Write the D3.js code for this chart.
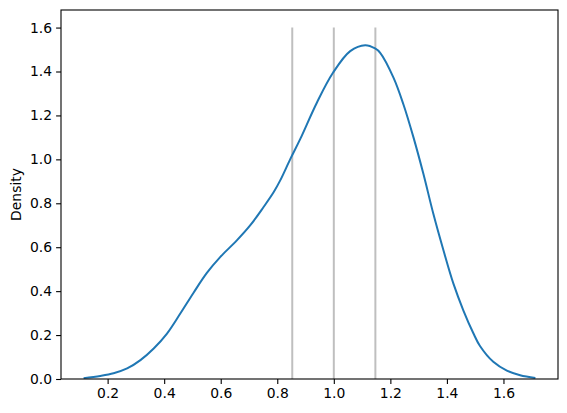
<!DOCTYPE html>
<html>
<head>
<meta charset="utf-8">
<script src="https://cdn.jsdelivr.net/npm/d3@7"></script>
<style>
  body { margin: 0; background: #fff; }
  text { font-family: "DejaVu Sans", sans-serif; }
</style>
</head>
<body>
<svg id="chart" width="567" height="413"></svg>
<script>
// kde curve
const xs = [0.115, 0.174, 0.221, 0.269, 0.316, 0.363, 0.410, 0.457, 0.504, 0.551, 0.598, 0.657, 0.704, 0.751, 0.787, 0.810, 0.846, 0.881, 0.940, 0.997, 1.058, 1.111, 1.146, 1.164, 1.211, 1.246, 1.282, 1.317, 1.352, 1.388, 1.423, 1.458, 1.494, 1.517, 1.564, 1.612, 1.659, 1.713]
const density = [0.004, 0.014, 0.026, 0.048, 0.086, 0.139, 0.207, 0.298, 0.393, 0.483, 0.555, 0.631, 0.699, 0.782, 0.850, 0.903, 1.001, 1.092, 1.258, 1.394, 1.493, 1.520, 1.505, 1.485, 1.372, 1.251, 1.099, 0.933, 0.752, 0.585, 0.434, 0.313, 0.207, 0.150, 0.078, 0.038, 0.017, 0.005]

// quartile markers
const quartiles = [0.853, 1.0, 1.147]
const quartileTop = 1.6

const xTicks = [0.2, 0.4, 0.6, 0.8, 1.0, 1.2, 1.4, 1.6]
const yTicks = [0.0, 0.2, 0.4, 0.6, 0.8, 1.0, 1.2, 1.4, 1.6]

const margin = {left: 61, right: 9, top: 10, bottom: 34}
const W = 567, H = 413

const svg = d3.select("#chart")

const x = d3.scaleLinear()
    .domain([0.0351, 1.7929])
    .range([margin.left, W - margin.right])

const y = d3.scaleLinear()
    .domain([0, 1.68])
    .range([H - margin.bottom, margin.top])

const pts = xs.map((v, i) => [v, density[i]])

// grey vertical lines
svg.append("g")
    .selectAll("line")
    .data(quartiles)
    .enter()
    .append("line")
    .attr("x1", d => x(d)).attr("x2", d => x(d))
    .attr("y1", y(0)).attr("y2", y(quartileTop))
    .style("stroke", "#bfbfbf")
    .style("stroke-width", 2)

const line = d3.line()
    .x(d => x(d[0]))
    .y(d => y(d[1]))
    .curve(d3.curveCatmullRom.alpha(0.5))

svg.append("path")
    .datum(pts)
    .attr("d", line)
    .attr("fill", "none")
    .attr("stroke", "#1f77b4")
    .attr("stroke-width", 2)

// axes
const xAxis = svg.append("g")
    .attr("transform", `translate(0,${H - margin.bottom})`)
    .call(d3.axisBottom(x).tickValues(xTicks).tickFormat(d3.format(".1f")).tickSize(4.9).tickPadding(4))

const yAxis = svg.append("g")
    .attr("transform", `translate(${margin.left},0)`)
    .call(d3.axisLeft(y).tickValues(yTicks).tickFormat(d3.format(".1f")).tickSize(4.9).tickPadding(4))

svg.selectAll(".domain").remove()
svg.selectAll(".tick line").style("stroke", "#000").style("stroke-width", 1.1)
svg.selectAll(".tick text").style("font-size", "13.9px").style("fill", "#000")

// frame
svg.append("rect")
    .attr("x", margin.left).attr("y", margin.top)
    .attr("width", W - margin.left - margin.right)
    .attr("height", H - margin.top - margin.bottom)
    .attr("fill", "none")
    .attr("stroke", "#000")
    .attr("stroke-width", 1.1)

svg.append("text")
    .attr("transform", `translate(21,${(margin.top + H - margin.bottom) / 2}) rotate(-90)`)
    .attr("text-anchor", "middle")
    .style("font-size", "13.9px")
    .text("Density")
</script>
</body>
</html>
